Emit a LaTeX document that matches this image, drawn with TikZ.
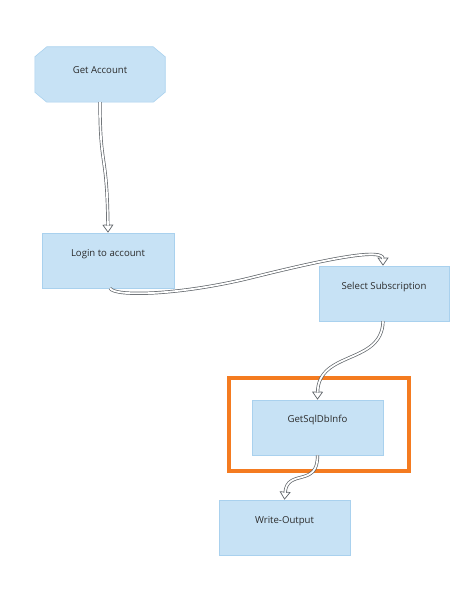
\documentclass[tikz,border=0pt]{standalone}
\usepackage{fontspec}
\setmainfont{Open Sans}
\usetikzlibrary{arrows.meta,calc}
\definecolor{boxfill}{HTML}{C7E2F5}
\definecolor{boxline}{HTML}{A9D1EE}
\definecolor{linkgray}{HTML}{5E6368}
\definecolor{hlorange}{HTML}{F47B20}
\definecolor{txt}{HTML}{2B2B2B}
\tikzset{
  flowbox/.style={draw=boxline, fill=boxfill, line width=0.6pt, minimum width=130pt, minimum height=55pt, inner sep=0pt},
  boxtext/.style={font=\fontsize{9.6}{11}\selectfont, text=txt},
  tipline/.style={draw=linkgray, line width=0.7pt, -{Triangle[width=11pt,length=8pt,fill=white]}},
  dblline/.style={draw=linkgray, line width=0.7pt, double=white, double distance=1.8pt, shorten >=7pt},
}
\newcommand\flowlink[1]{\draw[tipline] #1; \draw[dblline] #1;}
\begin{document}
\begin{tikzpicture}[x=1pt,y=-1pt]
\useasboundingbox (0,0) rectangle (474,604);
\node[minimum width=130pt, minimum height=55pt, inner sep=0pt] (ga) at (100,74.5) {};
\filldraw[draw=boxline, fill=boxfill, line width=0.6pt]
  ($(ga.north west)+(12,0)$) -- ($(ga.north east)+(-12,0)$) -- ($(ga.north east)+(0,10)$)
  -- ($(ga.south east)+(0,-10)$) -- ($(ga.south east)+(-12,0)$) -- ($(ga.south west)+(12,0)$)
  -- ($(ga.south west)+(0,-10)$) -- ($(ga.north west)+(0,10)$) -- cycle;
\node[boxtext] (gat) at ($(ga.north)+(0,23)$) {Get Account};
\node[flowbox, minimum width=132pt] (login) at (108,260.5) {};
\node[boxtext] (logint) at ($(login.north)+(0,21)$) {Login to account};
\node[flowbox] (sel) at (384,293.5) {};
\node[boxtext] (selt) at ($(sel.north)+(0,21)$) {Select Subscription};
\node[flowbox, minimum width=131pt] (sql) at (317.5,427.5) {};
\node[boxtext] (sqlt) at ($(sql.north)+(0,20)$) {GetSqlDbInfo};
\node[flowbox, minimum width=131pt] (wo) at (284.5,527.5) {};
\node[boxtext] (wot) at ($(wo.north)+(0,21)$) {Write-Output};
\node[draw=hlorange, line width=4.5pt, minimum width=180pt, minimum height=93pt, inner sep=0pt] (hl) at (319,424.5) {};
\flowlink{(ga.south) .. controls (100,170) and (107,150) .. (login.north)}
\flowlink{($(login.south)+(2,0)$) .. controls (115,297) and (180,295) .. (250,278) .. controls (330,258) and (383,248) .. ($(sel.north)+(-1,0)$)}
\flowlink{($(sel.south)+(-1,0)$) .. controls (382,365) and (318,350) .. (sql.north)}
\flowlink{(sql.south) .. controls (318,488) and (287,468) .. (wo.north)}
\end{tikzpicture}
\end{document}
